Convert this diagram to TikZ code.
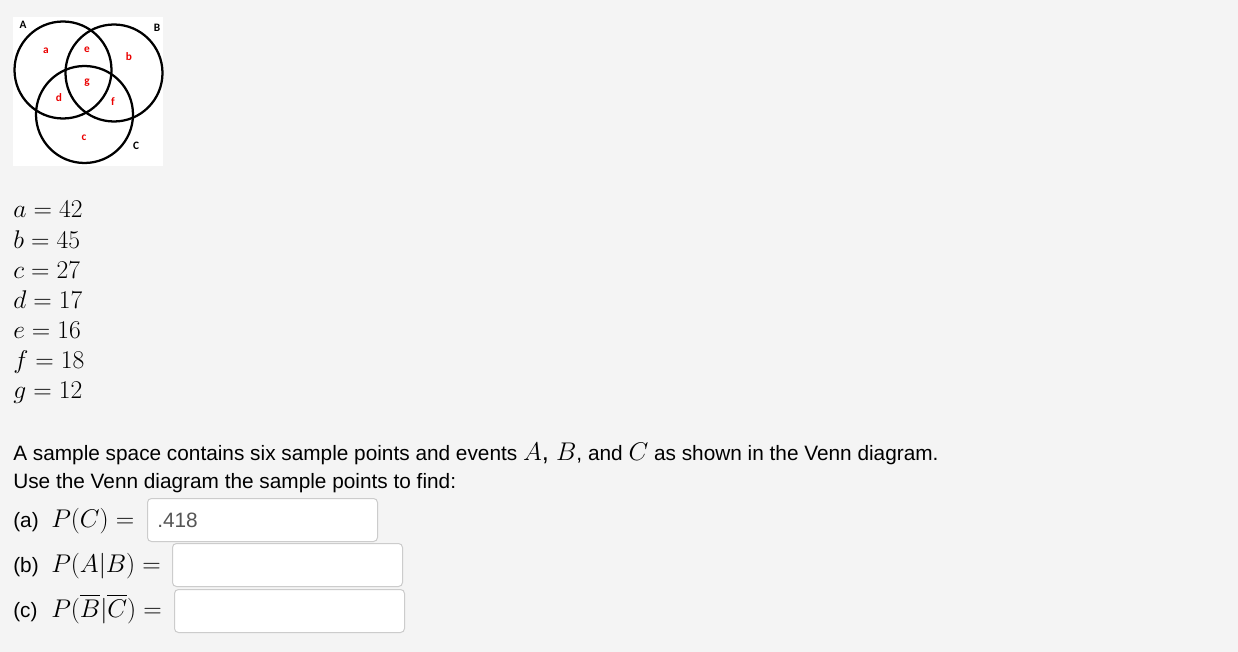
\RequirePackage{fix-cm}
\documentclass[tikz,border=0pt]{standalone}
\usepackage{amsmath}
\usepackage{fontspec}
\setmainfont{Liberation Sans}
\newfontfamily\vennfont{Carlito}
\definecolor{pagebg}{RGB}{244,244,244}
\definecolor{boxline}{RGB}{204,204,204}
\definecolor{regionred}{RGB}{235,0,0}
\definecolor{answergray}{RGB}{85,85,85}
\newcommand{\mathsize}{\fontsize{19.2}{21}\selectfont}

\begin{document}
\begin{tikzpicture}[x=0.75pt,y=-0.75pt]  % one unit = one pixel of the screenshot, y downwards
    \tikzset{
        setname/.style={font=\vennfont\fontsize{8.5}{9}\selectfont\bfseries, inner sep=0},
        regionname/.style={setname, text=regionred},
        bodytext/.style={anchor=base west, inner sep=0, font=\fontsize{15.6}{18}\selectfont},
        answerbox/.style={draw=boxline, line width=0.75pt, fill=white, rounded corners=3pt,
            anchor=north west, minimum width=172.5pt, minimum height=32.25pt, inner sep=0}
    }
    % Page background
    \useasboundingbox[fill=pagebg] (0,0) rectangle (1238,652);

    % Venn diagram on its white card
    \fill[white] (13,17) rectangle (163,166);
    \draw[line width=1.7pt] (63,70) circle[radius=48.5];   % A
    \draw[line width=1.7pt] (114,73) circle[radius=48.5];  % B
    \draw[line width=1.7pt] (84.5,114.5) circle[radius=48.5]; % C

    % Set names
    \node[setname] (nameA) at (23,25) {A};
    \node[setname] (nameB) at (157,28) {B};
    \node[setname] (nameC) at (136,146) {C};

    % Region names
    \foreach \r/\px/\py in {a/46/51, e/87/50, b/129/57, g/87/83, d/59/98, f/113/102, c/84/138} {
        \node[regionname] (region\r) at (\px,\py) {\r};
    }

    % Sizes of the regions
    \foreach \r/\n [count=\i] in {a/42, b/45, c/27, d/17, e/16, f/18, g/12} {
        \node[anchor=base west, inner sep=0, font=\mathsize]
            (count\r) at (13,188+30*\i) {$\r = \n$};
    }

    % Question text
    \node[bodytext] (lineone) at (13,460)
        {A sample space contains six sample points and events {\mathsize$A$, $B$}, and {\mathsize$C$} as shown in the Venn diagram.};
    \node[bodytext] (linetwo) at (13,488) {Use the Venn diagram the sample points to find:};

    % (a)
    \node[bodytext] (parta) at (13,527) {(a)};
    \node[bodytext, font=\mathsize] (proba) at (51,527) {$P(C) =$};
    \node[answerbox] (boxa) at (147,498) {};
    \node[bodytext, text=answergray] (answera) at (157,527) {.418};

    % (b)
    \node[bodytext] (partb) at (13,572) {(b)};
    \node[bodytext, font=\mathsize] (probb) at (51,572) {$P(A|B) =$};
    \node[answerbox] (boxb) at (172,543) {};

    % (c)
    \node[bodytext] (partc) at (13,617) {(c)};
    \node[bodytext, font=\mathsize] (probc) at (51,617) {$P(\overline{B}|\overline{C}) =$};
    \node[answerbox] (boxc) at (174,589) {};

\end{tikzpicture}
\end{document}
